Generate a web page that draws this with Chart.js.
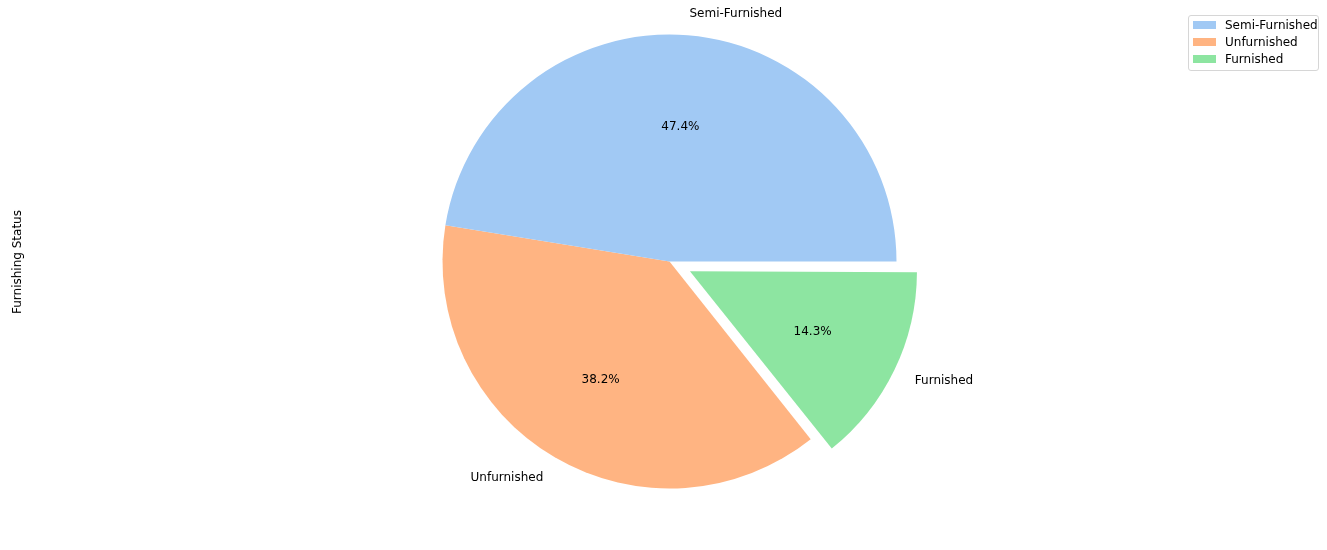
<!DOCTYPE html>
<html><head><meta charset="utf-8">
<script src="https://cdn.jsdelivr.net/npm/chart.js@4"></script>
<style>
html,body{margin:0;padding:0;background:#fff;}
#wrap{position:relative;width:1327px;height:550px;}
#legend{position:absolute;left:1188px;top:15px;width:131px;height:56px;border:1px solid #d6d6d6;border-radius:3px;box-sizing:border-box;font:12px "DejaVu Sans";color:#000;background:#fff;}
.row{position:absolute;left:0;height:14px;line-height:14px;white-space:nowrap;}
.sw{position:absolute;left:4px;top:3px;width:23px;height:8px;}
.tx{position:absolute;left:36px;top:0;}
#ylab{position:absolute;left:17px;top:262px;transform:translate(-50%,-50%) rotate(-90deg);font:12px "DejaVu Sans";color:#000;white-space:nowrap;}
</style>
</head><body>
<div id="wrap">
<canvas id="c" width="1327" height="550"></canvas>
<div id="legend"></div>
<div id="ylab">Furnishing Status</div>
</div>
<script>
const categories = ['Semi-Furnished', 'Unfurnished', 'Furnished'];
const shares = [47.4, 38.2, 14.3];
const colors = ['#a1c9f4', '#ffb482', '#8de5a1'];
const explode = [0, 0, 0.1];
const axisLabel = 'Furnishing Status';

const R = 227;
// Chart.js ArcElement translates by offset/4 when drawing
const OFFSET_SCALE = 4;
// matplotlib draws counter-clockwise from east; Chart.js clockwise, so reverse order
const order = categories.map((_, i) => i).reverse();

// Chart.js enlarges an offset arc's radius by offset*(1-sin(circumference)); undo so
// exploded wedges keep the same radius like matplotlib.
const radiusFix = {
  id: 'radiusFix',
  afterDatasetUpdate(chart, args) {
    args.meta.data.forEach(arc => {
      const off = (arc.options.offset || 0) / OFFSET_SCALE;
      if (!off) return;
      const circ = arc.endAngle - arc.startAngle;
      const fix = 1 - Math.sin(Math.min(Math.PI, circ));
      arc.outerRadius = R - off * fix;
    });
  }
};

const labelPlugin = {
  id: 'pieLabels',
  afterDatasetsDraw(chart) {
    const ctx = chart.ctx;
    const meta = chart.getDatasetMeta(0);
    ctx.save();
    ctx.font = '12px "DejaVu Sans"';
    ctx.fillStyle = '#000';
    ctx.textBaseline = 'middle';
    meta.data.forEach((arc, i) => {
      const p = arc.getProps(['x', 'y', 'startAngle', 'endAngle'], true);
      const mid = (p.startAngle + p.endAngle) / 2;
      const off = (arc.options.offset || 0) / OFFSET_SCALE;
      const cx = p.x + Math.cos(mid) * off;
      const cy = p.y + Math.sin(mid) * off;
      const idx = order[i];
      const lx = cx + Math.cos(mid) * R * 1.1;
      const ly = cy + Math.sin(mid) * R * 1.1 + 1;
      ctx.textAlign = Math.cos(mid) > 0 ? 'left' : 'right';
      ctx.fillText(categories[idx], lx, ly);
      const px = cx + Math.cos(mid) * R * 0.6;
      const py = cy + Math.sin(mid) * R * 0.6 + 1;
      ctx.textAlign = 'center';
      ctx.fillText(shares[idx].toFixed(1) + '%', px, py);
    });
    ctx.restore();
  }
};

new Chart(document.getElementById('c'), {
  type: 'pie',
  data: {
    labels: order.map(i => categories[i]),
    datasets: [{
      data: order.map(i => shares[i]),
      backgroundColor: order.map(i => colors[i]),
      borderWidth: 0,
      offset: order.map(i => explode[i] * R * OFFSET_SCALE),
      hoverOffset: 0
    }]
  },
  options: {
    responsive: false,
    animation: false,
    rotation: 90,
    radius: R,
    layout: { padding: { left: 12, right: 0, top: 0, bottom: 27 } },
    plugins: { legend: { display: false }, tooltip: { enabled: false } },
    events: []
  },
  plugins: [radiusFix, labelPlugin]
});

const leg = document.getElementById('legend');
const rowTops = [2, 19, 36];
categories.forEach((c, i) => {
  const r = document.createElement('div');
  r.className = 'row';
  r.style.top = rowTops[i] + 'px';
  r.innerHTML = '<span class="sw" style="background:' + colors[i] + '"></span><span class="tx"></span>';
  r.querySelector('.tx').textContent = c;
  leg.appendChild(r);
});
document.getElementById('ylab').textContent = axisLabel;
</script>
</body></html>
